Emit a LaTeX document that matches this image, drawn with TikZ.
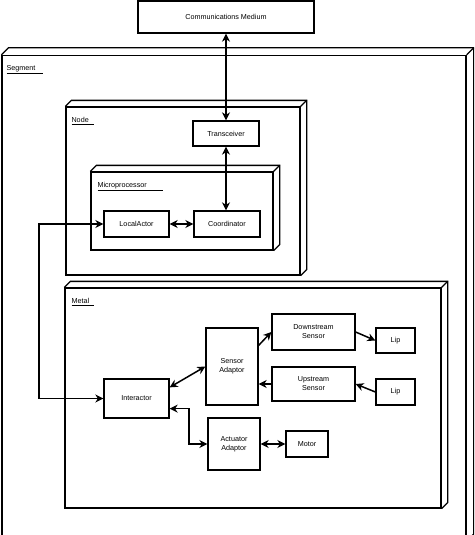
\documentclass[tikz,border=0pt]{standalone}
\usepackage{fontspec}
\setmainfont{Liberation Sans}
\usepackage{tikz}
\usetikzlibrary{positioning,arrows.meta,calc}

\begin{document}
\begin{tikzpicture}[
  x=1pt, y=-1pt,
  box/.style={
    draw, line width=1.3pt, inner sep=1pt,
    align=center, font=\fontsize{7.2}{9}\selectfont
  },
  container/.style={draw, line width=1.3pt, inner sep=0pt},
  rim/.style={line width=1.3pt, line join=miter},
  tag/.style={font=\fontsize{7.2}{9}\selectfont, inner sep=0pt, anchor=north west},
  dbl/.style={line width=1.5pt,
    {Stealth[length=8pt,width=8pt,inset=2.5pt]}-{Stealth[length=8pt,width=8pt,inset=2.5pt]}},
  sgl/.style={line width=1.5pt, -{Stealth[length=8pt,width=8pt,inset=2.5pt]}}
]
\useasboundingbox (0,0) rectangle (474,535);
\clip (0,0) rectangle (474,535);

% Contenedores
\node[container, minimum width=464pt, minimum height=485pt] (segment) at (234,298) {};
\draw[rim] (segment.north west) -- ++(7,-7) -- ([shift={(7pt,7pt)}]segment.north east)
  -- ([shift={(7pt,7pt)}]segment.south east) -- (segment.south east);
\draw[rim] (segment.north east) -- ++(7,-7);
\node[tag] (segtag) at ([shift={(5pt,-10pt)}]segment.north west) {\underline{Segment\hspace{8pt}}};

\node[container, minimum width=234pt, minimum height=168pt] (nodebox) at (183,191) {};
\draw[rim] (nodebox.north west) -- ++(6,-6) -- ([shift={(6pt,6pt)}]nodebox.north east)
  -- ([shift={(6pt,6pt)}]nodebox.south east) -- (nodebox.south east);
\draw[rim] (nodebox.north east) -- ++(6,-6);
\node[tag] (nodetag) at ([shift={(6pt,-11pt)}]nodebox.north west) {\underline{Node\hspace{5pt}}};

\node[container, minimum width=182pt, minimum height=78pt] (micro) at (182,211) {};
\draw[rim] (micro.north west) -- ++(6,-6) -- ([shift={(6pt,6pt)}]micro.north east)
  -- ([shift={(6pt,6pt)}]micro.south east) -- (micro.south east);
\draw[rim] (micro.north east) -- ++(6,-6);
\node[tag] (microtag) at ([shift={(7pt,-11pt)}]micro.north west) {\underline{Microprocessor\hspace{16pt}}};

\node[container, minimum width=376pt, minimum height=220pt] (metal) at (253,398) {};
\draw[rim] (metal.north west) -- ++(6,-6) -- ([shift={(6pt,6pt)}]metal.north east)
  -- ([shift={(6pt,6pt)}]metal.south east) -- (metal.south east);
\draw[rim] (metal.north east) -- ++(6,-6);
\node[tag] (metaltag) at ([shift={(7pt,-11pt)}]metal.north west) {\underline{Metal\hspace{5pt}}};

% Bloques
\node[box, minimum width=176pt, minimum height=32pt] (comm) at (226,17) {Communications Medium};
\node[box, minimum width=66pt, minimum height=25pt] (trans) at (226,133.5) {Transceiver};
\node[box, minimum width=65pt, minimum height=26pt] (local) at (136.5,224) {LocalActor};
\node[box, minimum width=66pt, minimum height=26pt] (coord) at (227,224) {Coordinator};

\node[box, minimum width=65pt, minimum height=39pt] (inter) at (136.5,398.5) {Interactor};
\node[box, minimum width=52pt, minimum height=77pt] (sensad) at (232,366.5) {Sensor\\Adaptor};
\node[box, minimum width=83pt, minimum height=36pt] (down) at (313.5,332) {Downstream\\Sensor};
\node[box, minimum width=83pt, minimum height=34pt] (up) at (313.5,384) {Upstream\\Sensor};
\node[box, minimum width=39pt, minimum height=25pt] (lipa) at (395.5,340.5) {Lip};
\node[box, minimum width=39pt, minimum height=26pt] (lipb) at (395.5,392) {Lip};
\node[box, minimum width=52pt, minimum height=52pt] (actad) at (234,444) {Actuator\\Adaptor};
\node[box, minimum width=42pt, minimum height=26pt] (motor) at (307,444) {Motor};

% Conexiones
\draw[dbl] (comm.south) -- (trans.north);
\draw[dbl] (trans.south) -- (trans.south |- coord.north);
\draw[dbl] (local.east) -- (coord.west);
\draw[dbl] (local.west) -- ++(-64.5,0) |- (inter.west);
\draw[dbl] ([yshift=-9pt]inter.north east) -- (sensad.west);
\draw[sgl] ([yshift=-18pt]sensad.north east) -- (down.west);
\draw[sgl] (down.east) -- (lipa.west);
\draw[sgl] (up.west) -- (sensad.east |- up.west);
\draw[sgl] (lipb.west) -- (up.east);
\draw[dbl] ([yshift=10pt]inter.south east) -- ++(19.5,0) |- (actad.west);
\draw[dbl] (actad.east) -- (motor.west);
\end{tikzpicture}
\end{document}
